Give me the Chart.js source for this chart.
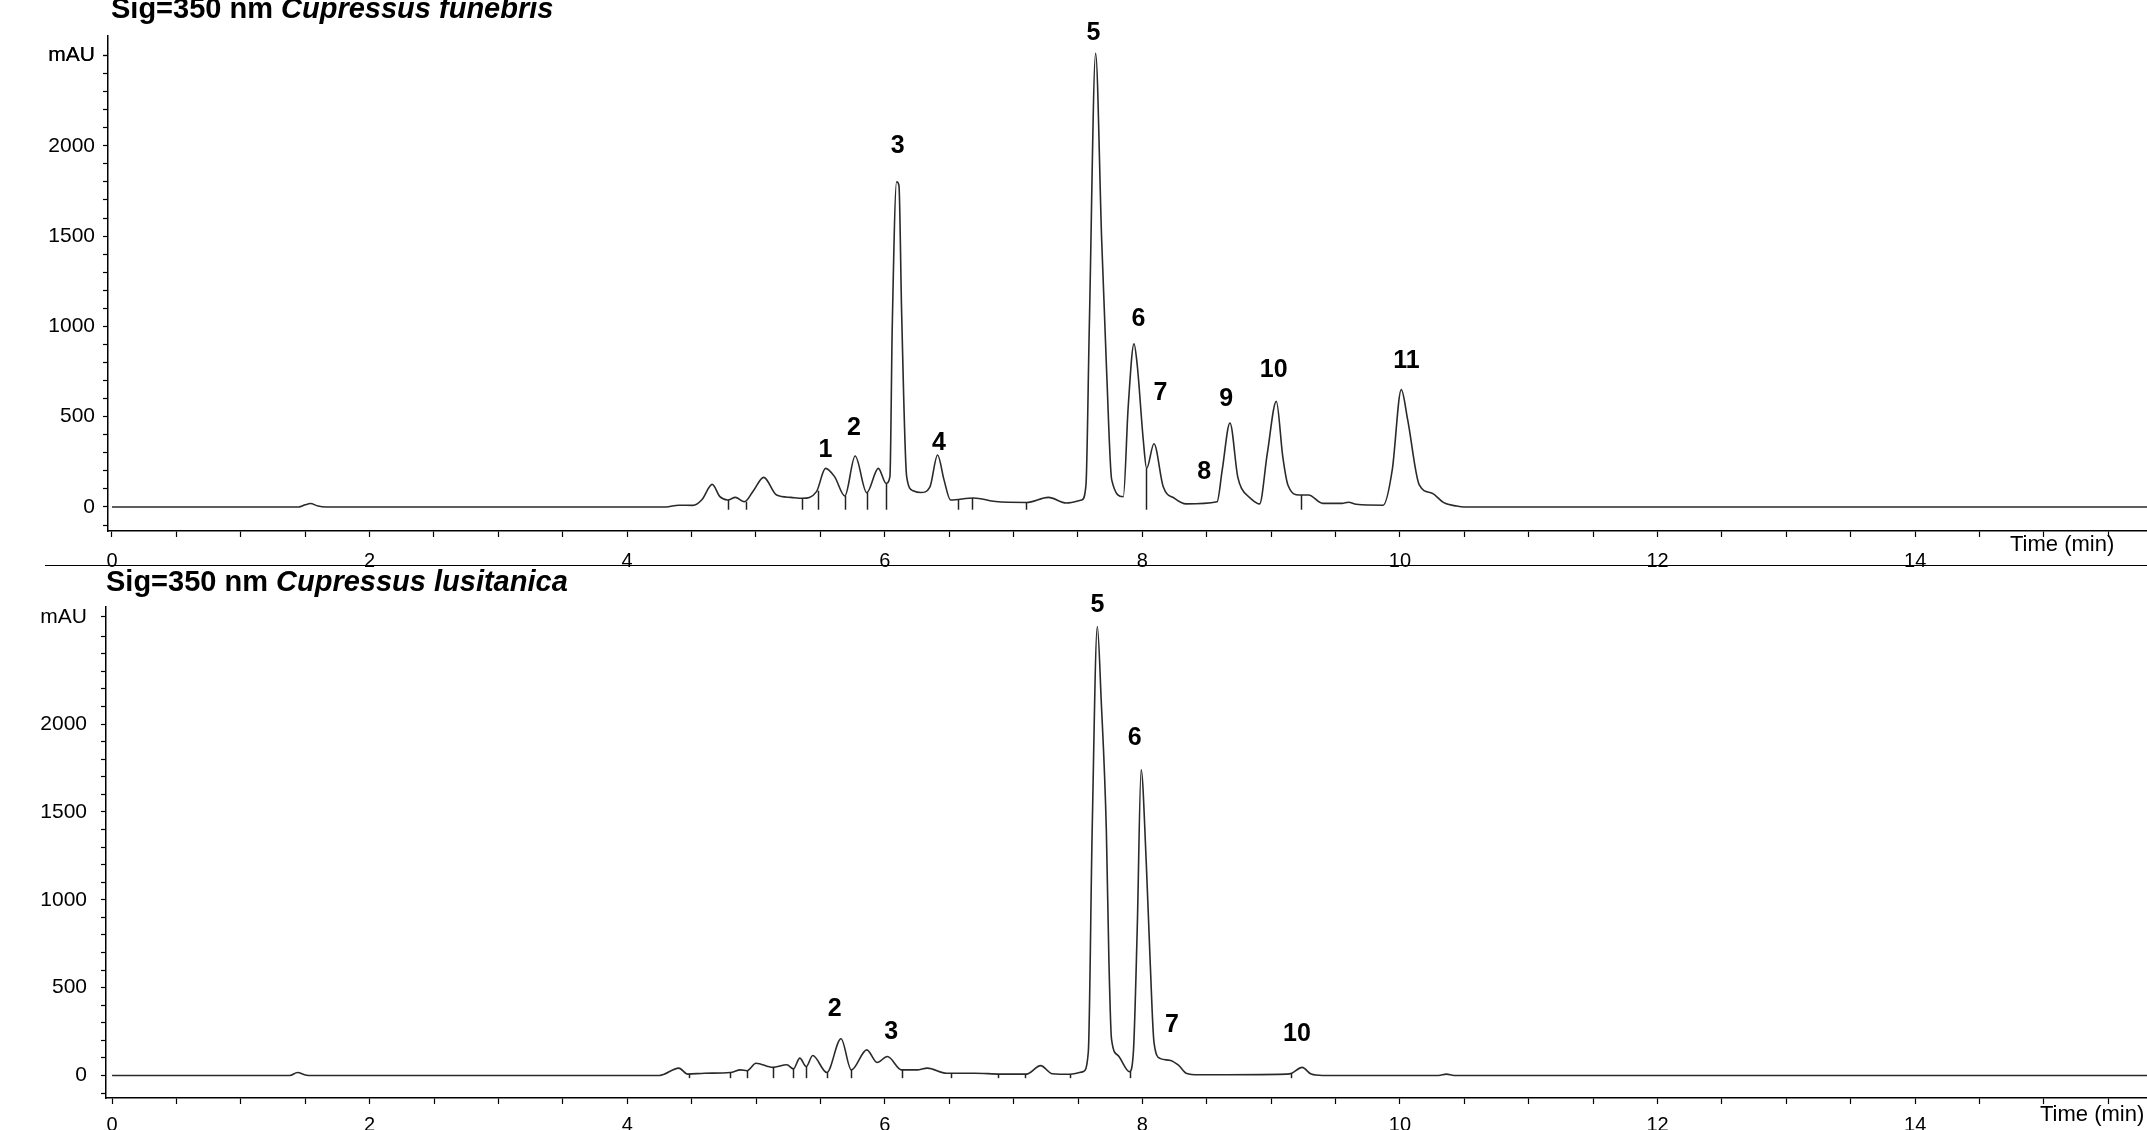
<!DOCTYPE html>
<html><head><meta charset="utf-8">
<script src="https://cdn.jsdelivr.net/npm/chart.js@4.4.1/dist/chart.umd.min.js"></script>
<style>
html,body{margin:0;padding:0;background:#fff;width:2147px;height:1130px;overflow:hidden;position:relative;font-family:"Liberation Sans",Arial,sans-serif;color:#000;}
canvas{position:absolute;left:0;}
#c1{top:0;}
#c2{top:570px;}
.title{position:absolute;font-weight:bold;font-size:29px;line-height:29px;white-space:nowrap;}
.title i{font-style:italic;}
.tlabel{position:absolute;font-size:22px;line-height:22px;white-space:nowrap;}
.sep{position:absolute;left:45px;width:2102px;top:565px;height:0;border-top:1.5px solid #000;}
</style></head>
<body>
<canvas id="c1" width="2147" height="580"></canvas>
<canvas id="c2" width="2147" height="560"></canvas>
<div class="title" style="left:111px;top:-6px;">Sig=350 nm <i>Cupressus funebris</i></div>
<div class="title" style="left:106px;top:567px;">Sig=350 nm <i>Cupressus lusitanica</i></div>
<div class="sep"></div>
<div class="tlabel" style="left:2010px;top:533px;">Time (min)</div>
<div class="tlabel" style="left:2040px;top:1103px;">Time (min)</div>
<script>
// ---------- DATA ----------
// Cupressus funebris (top): retention time (min) and absorbance (mAU)
const funebrisTime = [0,1.45,1.50,1.54,1.60,1.66,4.30,4.40,4.51,4.58,4.66,4.72,4.78,4.84,4.91,4.98,5.06,5.16,5.27,5.36,5.47,5.54,5.61,5.69,5.77,5.86,5.95,6.01,6.04,6.058,6.092,6.11,6.131,6.17,6.22,6.28,6.35,6.41,6.46,6.51,6.69,6.86,7.10,7.27,7.41,7.53,7.562,7.588,7.637,7.684,7.723,7.762,7.852,7.890,7.935,7.960,8.007,8.033,8.090,8.162,8.25,8.34,8.58,8.62,8.68,8.74,8.77,8.84,8.91,8.97,9.04,9.09,9.13,9.22,9.29,9.40,9.55,9.60,9.66,9.87,9.94,10.01,10.06,10.15,10.25,10.34,10.44,10.50,15.8];
const funebrisSignal = [0,0,12,19,5,0,0,10,9,40,125,57,39,53,29,90,164,66,53,48,85,214,168,61,282,79,214,131,168,998,1801,1780,1072,168,90,80,110,288,150,39,50,30,25,53,22,39,122,998,2512,1478,740,150,57,555,903,786,371,214,350,112,48,17,29,205,465,168,103,48,17,297,585,279,122,66,66,20,20,26,15,10,205,650,482,122,76,24,5,0,0];
const funebrisDropTime = [4.78,4.92,5.36,5.48,5.69,5.86,6.01,6.57,6.68,7.10,8.03,9.23];
const funebrisDropSignal = [39,29,48,90,61,79,131,40,50,25,214,66];
const funebrisPeakNames = ['1','2','3','4','5','6','7','8','9','10','11'];
const funebrisPeakTime = [5.54,5.76,6.10,6.42,7.62,7.97,8.14,8.48,8.65,9.02,10.05];
const funebrisPeakLabelLevel = [313,434,1996,351,2625,1041,631,192,600,760,806];

// Cupressus lusitanica (bottom)
const lusitanicaTime = [0,1.38,1.44,1.50,1.56,4.25,4.40,4.47,4.60,4.80,4.88,4.93,5.00,5.13,5.24,5.29,5.34,5.39,5.44,5.55,5.66,5.74,5.86,5.94,6.02,6.13,6.25,6.33,6.48,6.70,6.90,7.10,7.21,7.30,7.44,7.54,7.58,7.61,7.65,7.68,7.72,7.74,7.76,7.81,7.90,7.93,7.96,7.99,8.03,8.06,8.09,8.14,8.21,8.28,8.34,8.44,9.12,9.16,9.24,9.31,9.40,10.30,10.36,10.42,15.8];
const lusitanicaSignal = [0,0,17,3,0,0,42,8,13,17,32,27,70,46,61,38,99,51,114,17,209,32,146,74,108,32,32,42,13,13,8,8,56,10,7,22,134,1395,2555,2137,1395,653,208,115,22,134,839,1739,1210,653,189,96,87,59,13,4,8,13,46,8,0,0,8,0,0];
const lusitanicaDropTime = [4.48,4.80,4.93,5.13,5.29,5.39,5.55,5.74,6.13,6.51,6.88,7.09,7.44,7.90,9.15];
const lusitanicaDropSignal = [8,17,27,46,38,51,17,32,32,13,8,8,7,22,13];
const lusitanicaPeakNames = ['2','3','5','6','7','10'];
const lusitanicaPeakTime = [5.61,6.05,7.65,7.94,8.23,9.20];
const lusitanicaPeakLabelLevel = [378,245,2677,1921,284,237];

// Axis ticks
const timeTickLabels = [0,2,4,6,8,10,12,14];
const timeMinorStep = 0.5;
const mAUTickLabels = [0,500,1000,1500,2000];
const mAUMinorStep = 100;
const funebrisUnitTick = 2500;
const lusitanicaUnitTick = 2610;

// ---------- RENDER ----------
const FONT = '"Liberation Sans", Arial, sans-serif';
Chart.defaults.font.family = FONT;
Chart.defaults.color = '#000';

function range(a, b, step) { const r = []; for (let v = a; v <= b + 1e-9; v += step) r.push(Math.round(v * 1000) / 1000); return r; }

function annotPlugin(dropT, dropV, names, pT, pV) {
  return {
    id: 'annot',
    afterDatasetsDraw(chart) {
      const {ctx, scales: {x, y}} = chart;
      ctx.save();
      ctx.strokeStyle = '#222';
      ctx.lineWidth = 1.5;
      dropT.forEach((t, i) => {
        const px = Math.round(x.getPixelForValue(t)) + 0.5;
        ctx.beginPath();
        ctx.moveTo(px, y.getPixelForValue(-15));
        ctx.lineTo(px, y.getPixelForValue(dropV[i]));
        ctx.stroke();
      });
      ctx.font = 'bold 25px ' + FONT;
      ctx.fillStyle = '#000';
      ctx.textAlign = 'center';
      ctx.textBaseline = 'middle';
      names.forEach((n, i) => ctx.fillText(n, x.getPixelForValue(pT[i]), y.getPixelForValue(pV[i])));
      ctx.restore();
    }
  };
}

function makeChart(id, times, signal, drops, peaks, cfg) {
  const yTickVals = range(-100, 2500, mAUMinorStep);
  yTickVals.push(cfg.unitTick);
  const xTickVals = range(0, 15.5, timeMinorStep);
  return new Chart(document.getElementById(id), {
    type: 'line',
    data: {
      datasets: [{
        data: times.map((t, i) => ({x: t, y: signal[i]})),
        borderColor: '#2a2a2a',
        borderWidth: 1.6,
        pointRadius: 0,
        cubicInterpolationMode: 'monotone',
        fill: false
      }]
    },
    options: {
      responsive: false,
      animation: false,
      events: [],
      layout: {padding: {top: cfg.padTop, left: 0, right: 0, bottom: 0}},
      plugins: {legend: {display: false}, tooltip: {enabled: false}, title: {display: false}},
      scales: {
        x: {
          type: 'linear', min: cfg.xMin, max: 15.8,
          afterFit: s => { s.height = cfg.xAxisH; },
          afterBuildTicks: s => { s.ticks = xTickVals.map(v => ({value: v})); },
          ticks: {autoSkip: false, maxRotation: 0, padding: cfg.xPad, font: {size: 20},
            callback: v => timeTickLabels.includes(v) ? String(v) : ''},
          grid: {display: true, drawOnChartArea: false, drawTicks: true, tickLength: 6, tickColor: '#000', tickWidth: 1.2},
          border: {display: true, color: '#000', width: 1.5}
        },
        y: {
          type: 'linear', min: cfg.yMin, max: cfg.yMax,
          afterFit: s => { s.width = cfg.yAxisW; },
          afterBuildTicks: s => { s.ticks = yTickVals.map(v => ({value: v})); },
          ticks: {autoSkip: false, padding: cfg.yPad, font: {size: 21},
            callback: v => v === cfg.unitTick ? 'mAU' : (mAUTickLabels.includes(v) ? String(v) : '')},
          grid: {display: true, drawOnChartArea: false, drawTicks: true, tickLength: 5, tickColor: '#000', tickWidth: 1.2},
          border: {display: true, color: '#000', width: 1.5}
        }
      }
    },
    plugins: [annotPlugin(drops[0], drops[1], peaks[0], peaks[1], peaks[2])]
  });
}

makeChart('c1', funebrisTime, funebrisSignal,
  [funebrisDropTime, funebrisDropSignal],
  [funebrisPeakNames, funebrisPeakTime, funebrisPeakLabelLevel],
  {padTop: 36, xAxisH: 49, yAxisW: 108, yMin: -133, yMax: 2608, xMin: -0.031, unitTick: funebrisUnitTick, xPad: 12, yPad: 8});

makeChart('c2', lusitanicaTime, lusitanicaSignal,
  [lusitanicaDropTime, lusitanicaDropSignal],
  [lusitanicaPeakNames, lusitanicaPeakTime, lusitanicaPeakLabelLevel],
  {padTop: 37, xAxisH: 32, yAxisW: 106, yMin: -128, yMax: 2666, xMin: -0.047, unitTick: lusitanicaUnitTick, xPad: 9, yPad: 14});
</script>
</body></html>
